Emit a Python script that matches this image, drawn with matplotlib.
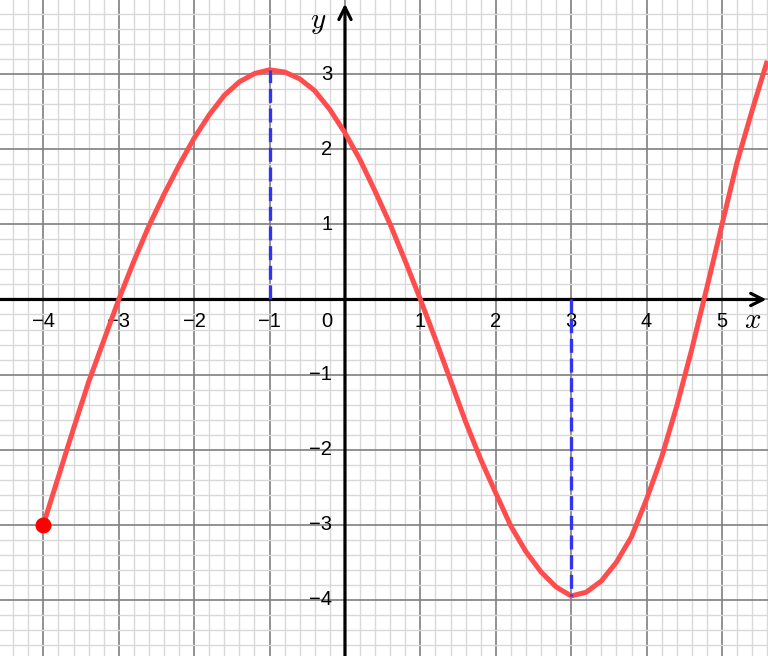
import matplotlib
matplotlib.use("Agg")
import matplotlib.pyplot as plt
import numpy as np

plt.rcParams['font.family'] = ['Liberation Sans', 'DejaVu Sans']
plt.rcParams['mathtext.fontset'] = 'cm'

# curve, every 0.2 unit
x_vals = [-4.0, -3.8, -3.6, -3.4, -3.2, -3.0, -2.8, -2.6, -2.4, -2.2,
          -2.0, -1.8, -1.6, -1.4, -1.2, -1.0, -0.8, -0.6, -0.4, -0.2,
          0.0, 0.2, 0.4, 0.6, 0.8, 1.0, 1.2, 1.4, 1.6, 1.8,
          2.0, 2.2, 2.4, 2.6, 2.8, 3.0, 3.2, 3.4, 3.6, 3.8,
          4.0, 4.2, 4.4, 4.6, 4.8, 5.0, 5.2, 5.4, 5.6]
y_vals = [-3.0, -2.36, -1.72, -1.1, -0.55, 0.0, 0.51, 0.98, 1.40, 1.79,
          2.15, 2.46, 2.72, 2.90, 3.01, 3.06, 3.03, 2.94, 2.78, 2.53,
          2.22, 1.86, 1.44, 1.0, 0.51, 0.0, -0.53, -1.08, -1.63, -2.13,
          -2.58, -3.02, -3.36, -3.63, -3.83, -3.95, -3.90, -3.75, -3.50, -3.16,
          -2.66, -2.10, -1.42, -0.66, 0.16, 1.0, 1.83, 2.52, 3.18]

start_point = (-4, -3)
max_x, max_y = -1, 3.06
min_x, min_y = 3, -3.95

x_ticks = [-4, -3, -2, -1, 1, 2, 3, 4, 5]
y_ticks = [-4, -3, -2, -1, 1, 2, 3]

xmin, xmax = -4.575, 5.61
ymin, ymax = -4.75, 3.99

fig = plt.figure(figsize=(7.68, 6.56), dpi=100)
ax = fig.add_axes([0, 0, 1, 1])
ax.set_xlim(xmin, xmax)
ax.set_ylim(ymin, ymax)
for s in ax.spines.values():
    s.set_visible(False)

# grid: major every 1, minor every 0.2
ax.set_xticks(np.arange(-4, 6, 1))
ax.set_yticks(np.arange(-4, 4, 1))
ax.set_xticks(np.arange(-4.4, 5.61, 0.2), minor=True)
ax.set_yticks(np.arange(-4.6, 3.99, 0.2), minor=True)
ax.tick_params(which='both', length=0, labelbottom=False, labelleft=False)
ax.grid(which='minor', color='#d9d9d9', lw=1.0, zorder=0)
ax.grid(which='major', color='#7f7f7f', lw=1.2, zorder=0)
ax.set_axisbelow(True)

# axes with arrows
ax.annotate('', xy=(5.59, 0), xytext=(xmin, 0),
            arrowprops=dict(arrowstyle='->', lw=2.3, color='black',
                            mutation_scale=22, shrinkA=0, shrinkB=0), zorder=3)
ax.annotate('', xy=(0, 3.94), xytext=(0, ymin),
            arrowprops=dict(arrowstyle='->', lw=2.3, color='black',
                            mutation_scale=22, shrinkA=0, shrinkB=0), zorder=3)

for t in x_ticks:
    ax.text(t, -0.30, str(t).replace('-', '\u2212'), ha='center', va='center',
            fontsize=14.5, zorder=4)
for t in y_ticks:
    ax.text(-0.17, t, str(t).replace('-', '\u2212'), ha='right', va='center',
            fontsize=14.5, zorder=4)
ax.text(-0.24, -0.30, '0', ha='center', va='center', fontsize=14.5, zorder=4)
ax.text(-0.36, 3.7, '$y$', ha='center', va='center', fontsize=21)
ax.text(5.4, -0.28, '$x$', ha='center', va='center', fontsize=21)

# curve and its start point
ax.plot(x_vals, y_vals, color='#ff4d4d', lw=3.6, solid_joinstyle='round',
        solid_capstyle='butt', zorder=5)
ax.plot(*start_point, 'o', color='#ff0000', ms=10.5, zorder=6)

# dashed lines down to the extrema
ax.plot([max_x, max_x], [0, max_y], color='#3333f2', lw=2.4, dashes=(4.2, 1.7), zorder=6)
ax.plot([min_x, min_x], [0, min_y], color='#3333f2', lw=2.4, dashes=(4.2, 1.7), zorder=6)

fig.savefig('out.png', dpi=100)
